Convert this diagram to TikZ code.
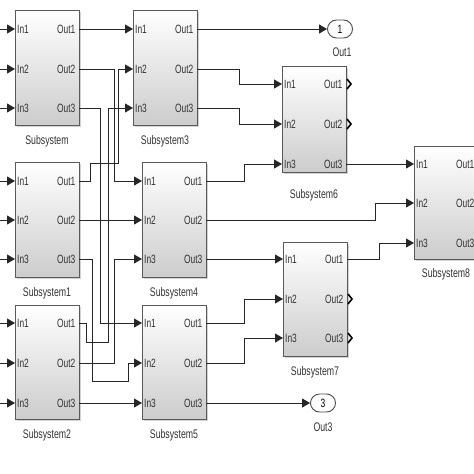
\documentclass[tikz,border=0pt]{standalone}
\usepackage{fontspec}
\setmainfont{Liberation Sans}[FakeStretch=0.7]
\usetikzlibrary{arrows.meta,shadows,calc}
\newcommand{\ssblk}[9]{%
  \node[blk, minimum height=#4pt] (#1) at (#2,#3) {};
  \node[lbl] (#1-name) at ({#2+32},#6) {#5};
  \foreach \k/\yy in {1/#7,2/#8,3/#9} {
    \coordinate (#1-i\k) at (#2,\yy);
    \coordinate (#1-o\k) at ({#2+64},\yy);
    \node[plbl, anchor=west] at (#1-i\k) {In\k};
    \node[plbl, anchor=east, xshift=-1.5pt] at (#1-o\k) {Out\k};
  }
}
\begin{document}
\begin{tikzpicture}[x=1pt,y=-1pt,
  blk/.style={draw=black!65, line width=0.9pt, top color=white, bottom color=black!20,
    anchor=north west, minimum width=64pt, inner sep=0pt,
    drop shadow={shadow xshift=1.5pt, shadow yshift=-1.5pt, opacity=0.35}},
  plbl/.style={font=\fontsize{12}{13}\selectfont, text=black!80, inner sep=2pt},
  lbl/.style={font=\fontsize{12.5}{13}\selectfont, text=black!80, inner sep=1pt},
  conn/.style={draw=black!85, line width=0.9pt},
  arr/.style={conn, -{Triangle[length=8pt,width=9pt]}},
  chev/.style={draw=black, line width=1.6pt},
  term/.style={draw=black!70, line width=0.9pt, rounded corners=9pt, minimum width=25pt,
    minimum height=18pt, inner sep=0pt, fill=white, font=\fontsize{12}{13}\selectfont}
]
\useasboundingbox[fill=white] (0,0) rectangle (474,474);

% blocks: name, left, top, height, label, label y, port ys
\ssblk{s0}{15}{10}{115}{Subsystem}{141}{29}{69}{108}
\ssblk{s3}{133}{10}{115}{Subsystem3}{141}{29}{69}{108}
\ssblk{s1}{15}{162}{115}{Subsystem1}{293}{181}{220}{259}
\ssblk{s4}{142}{162}{115}{Subsystem4}{293}{181}{220}{259}
\ssblk{s2}{15}{305}{114}{Subsystem2}{435}{323}{363}{403}
\ssblk{s5}{142}{305}{114}{Subsystem5}{435}{323}{363}{403}
\ssblk{s6}{282}{66}{106}{Subsystem6}{195}{84}{124}{164}
\ssblk{s7}{283}{242}{114}{Subsystem7}{372}{259}{299}{338}
\ssblk{s8}{414}{146}{113}{Subsystem8}{274}{164}{203}{243}

% outports
\node[term] (out1) at (340,29) {1};
\node[lbl] (out1-name) at (342,52) {Out1};
\node[term] (out3) at (323,403) {3};
\node[lbl] (out3-name) at (323,427) {Out3};

% external inputs
\foreach \b in {s0,s1,s2} {
  \foreach \k in {1,2,3} {
    \coordinate (src-\b-\k) at (0,0 |- \b-i\k);
    \draw[arr] (src-\b-\k) -- (\b-i\k);
  }
}

% connections
\draw[arr] (s0-o1) -- (s3-i1);
\draw[arr] (s0-o2) -- ++(35,0) |- (s4-i1);
\draw[arr] (s0-o3) -- ++(21,0) |- (s5-i1);
\draw[arr] (s1-o1) -- ++(11,0) -- ++(0,-18) -| ($(s3-i2)+(-15,0)$) -- (s3-i2);
\draw[arr] (s1-o2) -- (s4-i2);
\draw[arr] (s1-o3) -- ++(13,0) -- ++(0,122) -| ($(s5-i2)+(-14,0)$) -- (s5-i2);
\draw[arr] (s2-o1) -- ++(7,0) -- ++(0,19) -| ($(s3-i3)+(-25,0)$) -- (s3-i3);
\draw[arr] (s2-o2) -- ++(35,0) |- (s4-i3);
\draw[arr] (s2-o3) -- (s5-i3);

\draw[arr] (s3-o1) -- (out1.west);
\draw[arr] (s3-o2) -- ++(42,0) |- (s6-i1);
\draw[arr] (s3-o3) -- ++(42,0) |- (s6-i2);
\draw[arr] (s4-o1) -- ++(38,0) |- (s6-i3);
\draw[arr] (s4-o2) -- ++(169,0) |- (s8-i2);
\draw[arr] (s4-o3) -- (s7-i1);
\draw[arr] (s5-o1) -- ++(38,0) |- (s7-i2);
\draw[arr] (s5-o2) -- ++(38,0) |- (s7-i3);
\draw[arr] (s5-o3) -- (out3.west);
\draw[arr] (s6-o3) -- (s8-i1);
\draw[arr] (s7-o1) -- ++(32,0) |- (s8-i3);

% unconnected output markers
\foreach \p in {s6-o1,s6-o2,s7-o2,s7-o3} {
  \draw[chev] ($(\p)+(1,-5)$) -- ++(4,5) -- ++(-4,5);
}
\end{tikzpicture}
\end{document}
